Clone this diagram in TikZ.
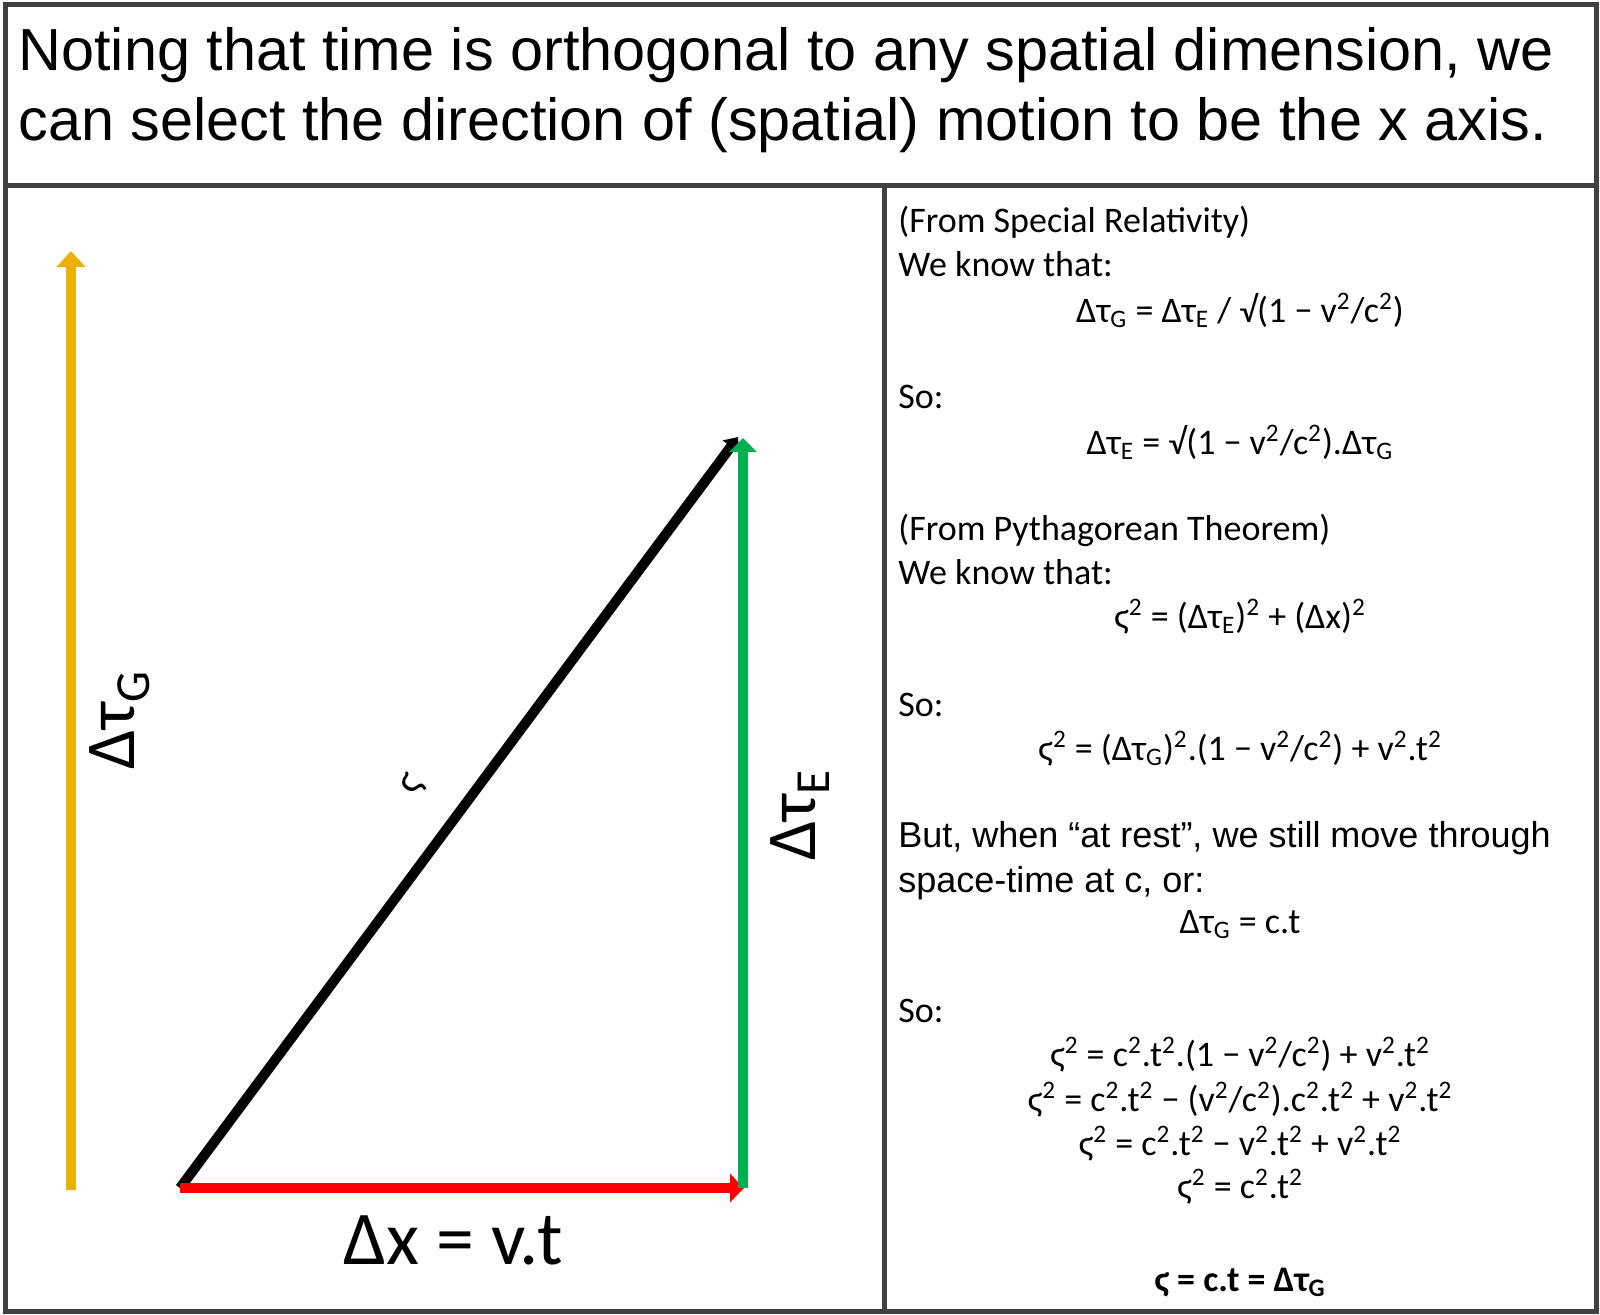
\documentclass[tikz,border=0pt]{standalone}
\usepackage{fontspec}
\setmainfont{Carlito}
\newfontfamily\arialfont{Liberation Sans}
\newfontfamily\stigfont{Carlito}
\usetikzlibrary{arrows.meta}
\definecolor{framegray}{RGB}{64,64,64}
\definecolor{tauyellow}{RGB}{236,176,0}
\definecolor{taugreen}{RGB}{0,176,80}
\definecolor{xred}{RGB}{255,0,0}
\newcommand{\stig}{{\stigfont ϛ}}
\newcommand{\tsq}{\textsuperscript{2}}
\newcommand{\dtG}{Δτ\textsubscript{G}}
\newcommand{\dtE}{Δτ\textsubscript{E}}
\begin{document}
\begin{tikzpicture}[x=0.5pt,y=-0.5pt,
        frame/.style={framegray,line width=2.5pt},
        txt/.style={anchor=base west,inner sep=0pt,font=\fontsize{18}{22}\selectfont},
        eqn/.style={anchor=base,inner sep=0pt,font=\fontsize{18}{22}\selectfont},
        big/.style={inner sep=0pt,font=\fontsize{35}{42}\selectfont},
        vec/.style={line width=5pt}]
    \useasboundingbox (0,0) rectangle (1600,1314);
    % frame
    \draw[frame] (5,4) rectangle (1596,1311);
    \draw[frame] (5,185) -- (1596,185);
    \draw[frame] (884.5,185) -- (884.5,1311);
    % title
    \node[anchor=base west,inner sep=0pt,font=\arialfont\fontsize{29.7}{35}\selectfont]
        (title1) at (18,70) {Noting that time is orthogonal to any spatial dimension, we};
    \node[anchor=base west,inner sep=0pt,font=\arialfont\fontsize{29.7}{35}\selectfont]
        (title2) at (18,140) {can select the direction of (spatial) motion to be the x axis.};
    % triangle
    \coordinate (O) at (180,1188);
    \coordinate (X) at (744,1188);
    \coordinate (E) at (743,1188);
    \coordinate (T) at (743,438);
    \coordinate (H) at (738,437);
    \coordinate (Gbot) at (71,1190);
    \coordinate (Gtop) at (71,251);
    \draw[vec,tauyellow,-{Triangle[length=8pt,width=14pt]}] (Gbot) -- (Gtop);
    \draw[vec,black,-{Triangle[length=6pt,width=10pt]}] (O) -- (H);
    \draw[vec,xred,-{Triangle[length=7pt,width=14pt]}] (O) -- (X);
    \draw[vec,taugreen,-{Triangle[length=7pt,width=13.5pt]}] (E) -- (T);
    \node[big,font=\fontsize{38}{45}\selectfont] (dx) at (453,1240) {Δx = v.t};
    \node[big,rotate=90] (tauG) at (120,720) {\dtG};
    \node[big,rotate=90] (tauE) at (800,815) {\dtE};
    \node[inner sep=0pt,rotate=53,font=\stigfont\fontsize{20}{24}\selectfont] (s) at (413,786) {ϛ};
    % right column
    \node[txt] (fsr) at (898,232) {(From Special Relativity)};
    \node[txt] (wkt1) at (898,276) {We know that:};
    \node[eqn] (eq1) at (1240,322) {\dtG{} = \dtE{} / √(1 − v\tsq/c\tsq)};
    \node[txt] (so1) at (898,408) {So:};
    \node[eqn] (eq2) at (1240,454) {\dtE{} = √(1 − v\tsq/c\tsq).\dtG};
    \node[txt] (fpt) at (898,540) {(From Pythagorean Theorem)};
    \node[txt] (wkt2) at (898,584) {We know that:};
    \node[eqn] (eq3) at (1240,628) {\stig\tsq{} = (\dtE)\tsq{} + (Δx)\tsq};
    \node[txt] (so2) at (898,716) {So:};
    \node[eqn] (eq4) at (1240,760) {\stig\tsq{} = (\dtG)\tsq.(1 − v\tsq/c\tsq) + v\tsq.t\tsq};
    \node[txt,font=\arialfont\fontsize{18}{22}\selectfont] (but) at (898,847) {But, when “at rest”, we still move through};
    \node[txt,font=\arialfont\fontsize{18}{22}\selectfont] (st) at (898,892) {space-time at c, or:};
    \node[eqn] (eq5) at (1240,933) {\dtG{} = c.t};
    \node[txt] (so3) at (898,1022) {So:};
    \node[eqn] (eq6) at (1240,1066) {\stig\tsq{} = c\tsq.t\tsq.(1 − v\tsq/c\tsq) + v\tsq.t\tsq};
    \node[eqn] (eq7) at (1240,1111) {\stig\tsq{} = c\tsq.t\tsq{} − (v\tsq/c\tsq).c\tsq.t\tsq{} + v\tsq.t\tsq};
    \node[eqn] (eq8) at (1240,1155) {\stig\tsq{} = c\tsq.t\tsq{} − v\tsq.t\tsq{} + v\tsq.t\tsq};
    \node[eqn] (eq9) at (1240,1198) {\stig\tsq{} = c\tsq.t\tsq};
    \node[eqn,font=\bfseries\fontsize{18}{22}\selectfont] (res) at (1240,1291) {\stig{} = c.t = \dtG};
\end{tikzpicture}
\end{document}
